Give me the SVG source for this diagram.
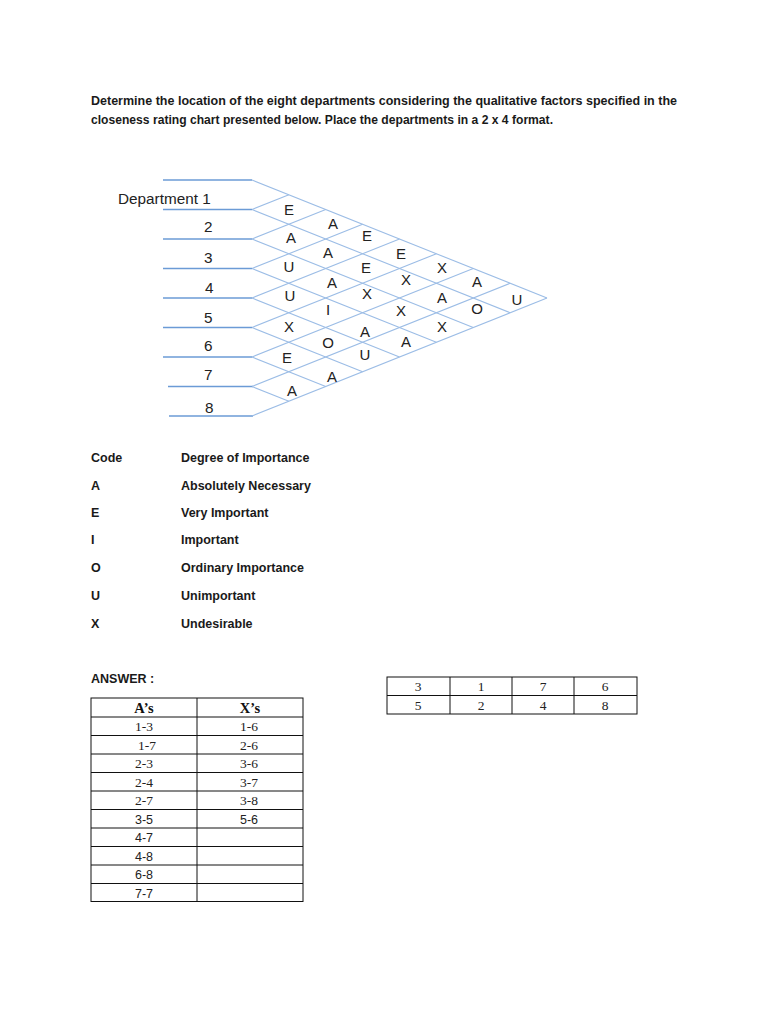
<svg xmlns="http://www.w3.org/2000/svg" width="768" height="1024" viewBox="0 0 768 1024">
<style>
.hdr{font-family:"Liberation Sans",Arial,sans-serif;font-size:12.5px;font-weight:bold;fill:#1a1a1a}
.lg{font-family:"Liberation Sans",Arial,sans-serif;font-size:12.5px;font-weight:bold;fill:#1a1a1a}
.dep{font-family:"Liberation Sans",Arial,sans-serif;font-size:15.3px;fill:#222}
.rel{font-family:"Liberation Sans",Arial,sans-serif;font-size:15px;fill:#222;text-anchor:middle}
.hl{stroke:#6b9bd6;stroke-width:1.3;fill:none}
.dl{stroke:#9cbde6;stroke-width:1.1;fill:none}
.tb{stroke:#111;stroke-width:1;fill:none}
.ts{font-family:"Liberation Serif","Times New Roman",serif;font-size:13.5px;fill:#222;text-anchor:middle}
.tss{font-family:"Liberation Sans",Arial,sans-serif;font-size:12.5px;fill:#222;text-anchor:middle}
.th{font-family:"Liberation Serif","Times New Roman",serif;font-size:14.5px;font-weight:bold;fill:#111;text-anchor:middle}
</style>
<rect width="768" height="1024" fill="#fff"/>
<g id="intro">
<text class="hdr" x="91" y="105" textLength="586" lengthAdjust="spacing">Determine the location of the eight departments considering the qualitative factors specified in the</text>
<text class="hdr" x="91" y="124" textLength="462" lengthAdjust="spacingAndGlyphs">closeness rating chart presented below. Place the departments in a 2 x 4 format.</text>
</g>
<g id="connectors">
<line class="hl" x1="163" y1="180" x2="252" y2="180"/>
<line class="hl" x1="163" y1="209.5" x2="252" y2="209.5"/>
<line class="hl" x1="163" y1="239" x2="252" y2="239"/>
<line class="hl" x1="163" y1="268.5" x2="252" y2="268.5"/>
<line class="hl" x1="163" y1="298" x2="252" y2="298"/>
<line class="hl" x1="163" y1="327.5" x2="252" y2="327.5"/>
<line class="hl" x1="163" y1="357" x2="252" y2="357"/>
<line class="hl" x1="168" y1="386.5" x2="253" y2="386.5"/>
<line class="hl" x1="169" y1="416" x2="253" y2="416"/>
<line class="dl" x1="252" y1="180" x2="547" y2="298"/>
<line class="dl" x1="252" y1="209.5" x2="510.1" y2="312.75"/>
<line class="dl" x1="252" y1="239" x2="473.25" y2="327.5"/>
<line class="dl" x1="252" y1="268.5" x2="436.4" y2="342.25"/>
<line class="dl" x1="252" y1="298" x2="399.5" y2="357"/>
<line class="dl" x1="252" y1="327.5" x2="362.6" y2="371.75"/>
<line class="dl" x1="252" y1="357" x2="325.75" y2="386.5"/>
<line class="dl" x1="252" y1="386.5" x2="288.9" y2="401.25"/>
<line class="dl" x1="252" y1="416" x2="547" y2="298"/>
<line class="dl" x1="252" y1="386.5" x2="510.1" y2="283.25"/>
<line class="dl" x1="252" y1="357" x2="473.25" y2="268.5"/>
<line class="dl" x1="252" y1="327.5" x2="436.4" y2="253.75"/>
<line class="dl" x1="252" y1="298" x2="399.5" y2="239"/>
<line class="dl" x1="252" y1="268.5" x2="362.6" y2="224.25"/>
<line class="dl" x1="252" y1="239" x2="325.75" y2="209.5"/>
<line class="dl" x1="252" y1="209.5" x2="288.9" y2="194.75"/>
</g>
<g id="departments">
<text class="dep" x="118" y="204">Department 1</text>
<text class="dep" x="204" y="232">2</text>
<text class="dep" x="204" y="263">3</text>
<text class="dep" x="205" y="293">4</text>
<text class="dep" x="204" y="323">5</text>
<text class="dep" x="204" y="351">6</text>
<text class="dep" x="204" y="380">7</text>
<text class="dep" x="205" y="413">8</text>
</g>
<g id="ratings">
<text class="rel" x="289" y="215">E</text>
<text class="rel" x="291" y="243">A</text>
<text class="rel" x="289" y="272">U</text>
<text class="rel" x="290" y="301">U</text>
<text class="rel" x="289" y="332">X</text>
<text class="rel" x="287" y="363">E</text>
<text class="rel" x="292" y="396">A</text>
<text class="rel" x="333" y="229">A</text>
<text class="rel" x="328" y="258">A</text>
<text class="rel" x="332" y="288">A</text>
<text class="rel" x="328" y="315">I</text>
<text class="rel" x="328" y="348">O</text>
<text class="rel" x="332" y="382">A</text>
<text class="rel" x="367" y="241">E</text>
<text class="rel" x="366" y="273">E</text>
<text class="rel" x="367" y="299">X</text>
<text class="rel" x="365" y="337">A</text>
<text class="rel" x="365" y="360">U</text>
<text class="rel" x="401" y="259">E</text>
<text class="rel" x="406" y="285">X</text>
<text class="rel" x="401" y="316">X</text>
<text class="rel" x="406" y="347">A</text>
<text class="rel" x="442" y="273">X</text>
<text class="rel" x="442" y="303">A</text>
<text class="rel" x="442" y="332">X</text>
<text class="rel" x="477" y="287">A</text>
<text class="rel" x="477" y="314">O</text>
<text class="rel" x="517" y="305">U</text>
</g>
<g id="legend">
<text class="lg" x="91" y="462">Code</text>
<text class="lg" x="181" y="462">Degree of Importance</text>
<text class="lg" x="91" y="490">A</text>
<text class="lg" x="181" y="490">Absolutely Necessary</text>
<text class="lg" x="91" y="517">E</text>
<text class="lg" x="181" y="517">Very Important</text>
<text class="lg" x="91" y="544">I</text>
<text class="lg" x="181" y="544">Important</text>
<text class="lg" x="91" y="572">O</text>
<text class="lg" x="181" y="572">Ordinary Importance</text>
<text class="lg" x="91" y="600">U</text>
<text class="lg" x="181" y="600">Unimportant</text>
<text class="lg" x="91" y="628">X</text>
<text class="lg" x="181" y="628">Undesirable</text>
<text class="lg" x="91" y="683">ANSWER :</text>
</g>
<g id="table-ax">
<rect class="tb" x="91" y="698" width="212" height="203.5"/>
<line class="tb" x1="197" y1="698" x2="197" y2="901.5"/>
<line class="tb" x1="91" y1="717" x2="303" y2="717"/>
<line class="tb" x1="91" y1="735.5" x2="303" y2="735.5"/>
<line class="tb" x1="91" y1="754" x2="303" y2="754"/>
<line class="tb" x1="91" y1="772.5" x2="303" y2="772.5"/>
<line class="tb" x1="91" y1="791" x2="303" y2="791"/>
<line class="tb" x1="91" y1="809.5" x2="303" y2="809.5"/>
<line class="tb" x1="91" y1="828" x2="303" y2="828"/>
<line class="tb" x1="91" y1="846.5" x2="303" y2="846.5"/>
<line class="tb" x1="91" y1="865" x2="303" y2="865"/>
<line class="tb" x1="91" y1="883.5" x2="303" y2="883.5"/>
<text class="th" x="144" y="713">A’s</text>
<text class="th" x="250" y="713">X’s</text>
<text class="ts" x="144" y="731">1-3</text>
<text class="ts" x="147" y="749.5">1-7</text>
<text class="ts" x="144" y="768">2-3</text>
<text class="ts" x="144" y="786.5">2-4</text>
<text class="ts" x="144" y="805">2-7</text>
<text class="tss" x="144" y="823.5">3-5</text>
<text class="tss" x="144" y="842">4-7</text>
<text class="tss" x="144" y="860.5">4-8</text>
<text class="tss" x="144" y="879">6-8</text>
<text class="tss" x="144" y="897.5">7-7</text>
<text class="ts" x="249" y="731">1-6</text>
<text class="ts" x="249" y="749.5">2-6</text>
<text class="ts" x="249" y="768">3-6</text>
<text class="ts" x="249" y="786.5">3-7</text>
<text class="ts" x="249" y="805">3-8</text>
<text class="tss" x="249" y="823.5">5-6</text>
</g>
<g id="table-layout">
<rect class="tb" x="387" y="677" width="250" height="37"/>
<line class="tb" x1="387" y1="695.5" x2="637" y2="695.5"/>
<line class="tb" x1="450" y1="677" x2="450" y2="714"/>
<line class="tb" x1="512" y1="677" x2="512" y2="714"/>
<line class="tb" x1="574" y1="677" x2="574" y2="714"/>
<text class="ts" x="418" y="691">3</text>
<text class="ts" x="481" y="691">1</text>
<text class="ts" x="543" y="691">7</text>
<text class="ts" x="605" y="691">6</text>
<text class="ts" x="418" y="709.5">5</text>
<text class="ts" x="481" y="709.5">2</text>
<text class="ts" x="543" y="709.5">4</text>
<text class="ts" x="605" y="709.5">8</text>
</g>
</svg>
